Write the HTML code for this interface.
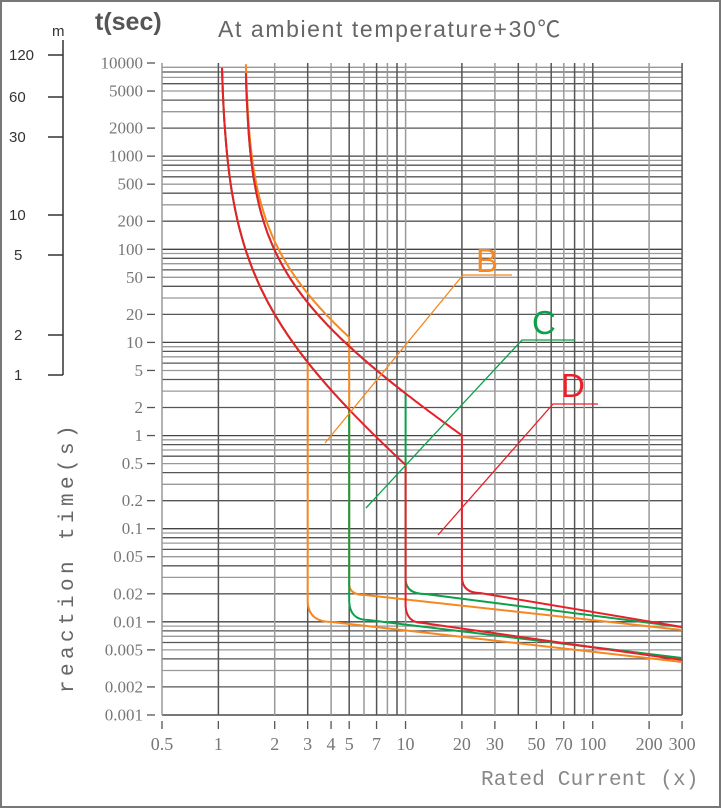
<!DOCTYPE html>
<html><head><meta charset="utf-8"><style>
html,body{margin:0;padding:0;background:#fff}
svg{display:block}
.yl{font-family:"Liberation Serif",serif;font-size:17px;fill:#777;text-anchor:end}
.xl{font-family:"Liberation Serif",serif;font-size:18px;fill:#777;text-anchor:middle}
.ml{font-family:"Liberation Sans",sans-serif;font-size:15px;fill:#333}
</style></head><body>
<svg id="s" width="721" height="808" viewBox="0 0 721 808" xmlns="http://www.w3.org/2000/svg">
<rect x="1" y="1" width="719" height="806" fill="#fff" stroke="#777" stroke-width="2"/>
<g id="grid"></g>
<text x="95" y="30" font-family="Liberation Sans,sans-serif" font-weight="bold" font-size="25" fill="#555">t(sec)</text>
<text x="218" y="37" font-family="Liberation Sans,'Noto Sans CJK SC',sans-serif" font-size="23" letter-spacing="1.6" fill="#666">At ambient temperature+30℃</text>
<text x="52" y="36" class="ml">m</text>
<line x1="63" y1="40" x2="63" y2="375" stroke="#333" stroke-width="1.5"/>
<g stroke="#333" stroke-width="1.5">
<line x1="48" y1="55" x2="63" y2="55"/><line x1="48" y1="97" x2="63" y2="97"/><line x1="48" y1="137" x2="63" y2="137"/>
<line x1="48" y1="215" x2="63" y2="215"/><line x1="48" y1="255" x2="63" y2="255"/><line x1="48" y1="335" x2="63" y2="335"/><line x1="48" y1="375" x2="63" y2="375"/></g>
<text x="9" y="60" class="ml">120</text><text x="9" y="102" class="ml">60</text><text x="9" y="142" class="ml">30</text>
<text x="9" y="220" class="ml">10</text><text x="14" y="260" class="ml">5</text><text x="14" y="340" class="ml">2</text><text x="14" y="380" class="ml">1</text>
<text transform="translate(73,557) rotate(-90)" text-anchor="middle" font-family="Liberation Mono,monospace" font-size="21" letter-spacing="4.4" fill="#666">reaction time(s)</text>
<text x="481" y="785" font-family="Liberation Mono,monospace" font-size="21" letter-spacing="0.2" fill="#888">Rated Current (x)</text>
<g id="curves" fill="none" stroke-width="2" stroke-linejoin="round"></g>
<g fill="none" stroke-width="1.3">
<polyline stroke="#f7881f" points="325,443 463,275 512,275"/>
<polyline stroke="#0ca04a" points="366,508 522,340 575,340"/>
<polyline stroke="#e8202a" points="438,535 553,404 598,404"/>
</g>
<g font-family="Liberation Sans,sans-serif" font-size="33">
<text x="476" y="272" fill="#f7881f">B</text>
<text x="532" y="334" fill="#0ca04a">C</text>
<text x="561" y="397" fill="#e8202a">D</text>
</g>
</svg>
<script>
(function(){
var g=document.getElementById('grid'),h='';
function X(v){return 162+(Math.log10(v)-Math.log10(0.5))*187.2;}
function Y(t){return 63+(4-Math.log10(t))*93.14;}
for(var d=-3;d<4;d++)for(var m=1;m<10;m++){var t=m*Math.pow(10,d);var y=Y(t).toFixed(1);
h+='<line x1="162" x2="682" y1="'+y+'" y2="'+y+'" stroke="'+(m==1?'#444':(m%2?'#999':'#555'))+'" stroke-width="1.3"/>';}
h+='<line x1="162" x2="682" y1="715" y2="715" stroke="#444" stroke-width="1.3"/>';
var xs=[0.5,1,2,3,4,5,6,7,8,9,10,20,30,40,50,60,70,80,90,100,200,300];
xs.forEach(function(v,i){var x=X(v).toFixed(1);h+='<line x1="'+x+'" x2="'+x+'" y1="63" y2="715" stroke="'+(i%2?'#555':'#999')+'" stroke-width="1.5"/>';});
var yl=[[10000,'10000'],[5000,'5000'],[2000,'2000'],[1000,'1000'],[500,'500'],[200,'200'],[100,'100'],[50,'50'],[20,'20'],[10,'10'],[5,'5'],[2,'2'],[1,'1'],[0.5,'0.5'],[0.2,'0.2'],[0.1,'0.1'],[0.05,'0.05'],[0.02,'0.02'],[0.01,'0.01'],[0.005,'0.005'],[0.002,'0.002'],[0.001,'0.001']];
yl.forEach(function(a){var y=Y(a[0]);h+='<line x1="147" x2="155" y1="'+y+'" y2="'+y+'" stroke="#555" stroke-width="1.3"/><text class="yl" x="143" y="'+(y+5.5)+'">'+a[1]+'</text>';});
var xl=[[0.5,'0.5'],[1,'1'],[2,'2'],[3,'3'],[4,'4'],[5,'5'],[7,'7'],[10,'10'],[20,'20'],[30,'30'],[50,'50'],[70,'70'],[100,'100'],[200,'200'],[300,'300']];
xl.forEach(function(a){var x=X(a[0]);h+='<line x1="'+x+'" x2="'+x+'" y1="721" y2="729" stroke="#555" stroke-width="1.3"/><text class="xl" x="'+x+'" y="750">'+a[1]+'</text>';});
g.innerHTML=h;

function lower(I){return 20*Math.pow(I-1.02,-1.68)/Math.pow(0.98,-1.68);}
function upper(I){return 51.3*Math.pow(I-1.38,-1.345);}
function curve(f,k,Iend,yv,xr,yr,yEnd,col){
  var p=[];
  for(var I=0.5;I<Iend;I*=1.005){var t=f(I)*k;if(!(t>0)||t>10000)continue;p.push([X(I),Y(t)]);}
  var xe=X(Iend);p.push([xe,Y(f(Iend)*k)]);
  var d='M'+p.map(function(q){return q[0].toFixed(1)+','+q[1].toFixed(1);}).join(' L');
  d+=' L'+xe.toFixed(1)+','+yv+' Q'+(xe+1)+','+yr+' '+xr+','+yr+' L682,'+yEnd;
  return '<path stroke="'+col+'" d="'+d+'"/>';
}
var O='#f7881f',G='#0ca04a',R='#e8202a',c='';
c+=curve(lower,1,3,602,332,622,662,O);
c+=curve(upper,1.25,5,585,365,595,630,O);
c+=curve(lower,1,5,602,368,620,658,G);
c+=curve(upper,1,10,580,425,594,627,G);
c+=curve(lower,1,10,606,423,623,660,R);
c+=curve(upper,1,20,578,480,593,627,R);
document.getElementById('curves').innerHTML=c;
})();
</script>
</body></html>
